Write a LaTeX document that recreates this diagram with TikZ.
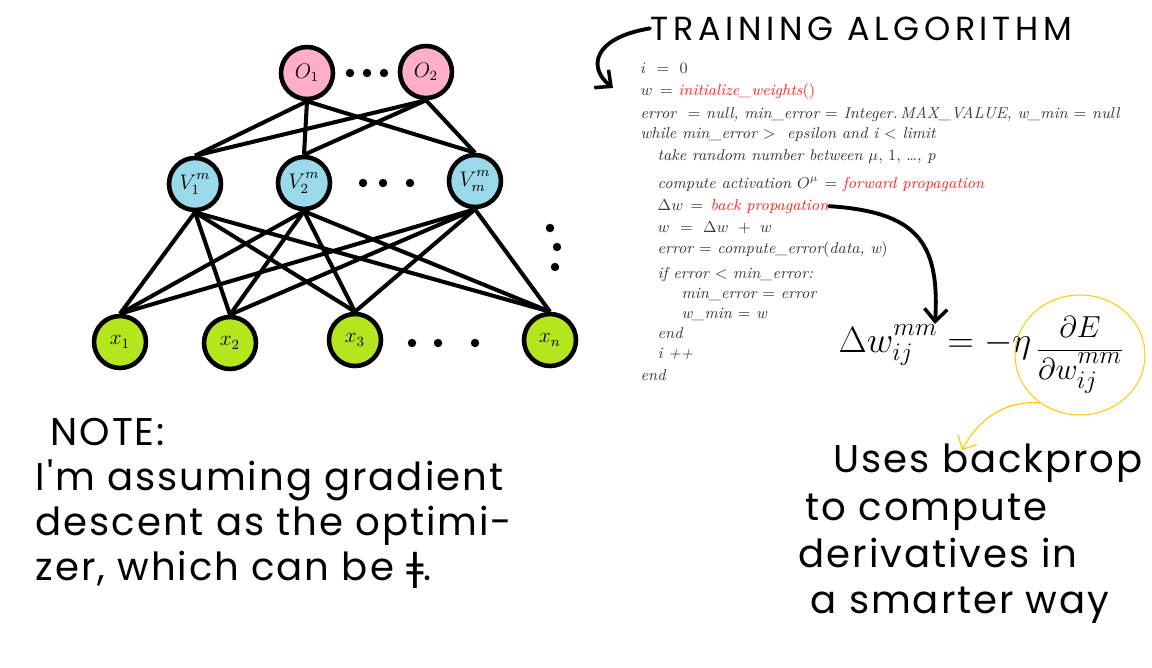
\documentclass[tikz,border=0pt]{standalone}
\usepackage{fontspec}
\usetikzlibrary{shapes.geometric,arrows.meta}
\newfontfamily\hand[LetterSpace=5]{Poppins}
\newfontfamily\handwide[LetterSpace=14]{Poppins}
\newfontfamily\handsym{DejaVu Sans}
\definecolor{rose}{RGB}{255,174,201}
\definecolor{turq}{RGB}{153,217,234}
\definecolor{lime}{RGB}{181,230,29}
\definecolor{gold}{RGB}{255,201,14}
\definecolor{codegray}{RGB}{55,55,55}
\definecolor{codered}{RGB}{255,35,35}

\begin{document}
\begin{tikzpicture}[x=0.02cm, y=-0.02cm, thick,
  main/.style = {draw, circle, line width=2.6pt, minimum size=1.04cm, inner sep=0pt, font=\large},
  wire/.style = {line width=2.3pt},
  code/.style = {anchor=base west, inner sep=0pt, text=codegray, font=\fontsize{9}{11}\selectfont\itshape},
  note/.style = {anchor=base west, inner sep=0pt, font=\hand\fontsize{22}{26}\selectfont},
  pen/.style = {line width=2.2pt, line cap=round, -{Straight Barb[length=7pt, width=13pt, line width=2pt]}}]
      \useasboundingbox (0,0) rectangle (1152,667);

      % network
      \node[main, fill=rose] (o1) at (307,73) {$O_1$};
      \node[main, fill=rose] (o2) at (426,72) {$O_2$};
      \node[main, fill=turq] (v1) at (195,184) {$V^{m\vphantom{y}}_{1\vphantom{A}}$};
      \node[main, fill=turq] (v2) at (304,183) {$V^{m\vphantom{y}}_{2\vphantom{A}}$};
      \node[main, fill=turq] (vm) at (475,181) {$V^{m\vphantom{y}}_{m\vphantom{A}}$};
      \node[main, fill=lime] (x1) at (120,342) {$x_1$};
      \node[main, fill=lime] (x2) at (230,343) {$x_2$};
      \node[main, fill=lime] (x3) at (355,340) {$x_3$};
      \node[main, fill=lime] (xn) at (550,340) {$x_n$};

      \path[wire]
      (o1.south) edge (v1.north)
      (o1.south) edge (v2.north)
      (o1.south) edge (vm.north)
      (o2.south) edge (v1.north)
      (o2.south) edge (v2.north)
      (o2.south) edge (vm.north)
      (v1.south) edge (x1.north)
      (v1.south) edge (x2.north)
      (v1.south) edge (x3.north)
      (v1.south) edge (xn.north)
      (v2.south) edge (x1.north)
      (v2.south) edge (x2.north)
      (v2.south) edge (x3.north)
      (v2.south) edge (xn.north)
      (vm.south) edge (x1.north)
      (vm.south) edge (x2.north)
      (vm.south) edge (x3.north)
      (vm.south) edge (xn.north);

      \foreach \x in {350,367,384} \fill (\x,73) circle[radius=2.4pt];
      \foreach \x in {363,383,410} \fill (\x,183) circle[radius=2.4pt];
      \foreach \x in {412,438,475} \fill (\x,343) circle[radius=2.4pt];
      \foreach \x/\y in {550/228,557/247,555/267} \fill (\x,\y) circle[radius=2.4pt];

      % algorithm
      \node[note, font=\handwide\fontsize{19}{22}\selectfont] (title) at (650,40) {TRAINING ALGORITHM};
      \node[code] (l1) at (640,73) {$i\ =\ 0$};
      \node[code] (l2) at (640,95) {$w\,=$ \textcolor{codered}{initialize\_weights}\textcolor{codered}{\upshape()}};
      \node[code] (l3) at (640,118) {error\ \ $=$ null, min\_error $=$ Integer.\,MAX\_VALUE, w\_min $=$ null};
      \node[code] (l4) at (640,138) {while min\_error $>$\ \ epsilon and i $<$ limit};
      \node[code] (l5) at (657,160) {take random number between {\upshape$\mu$, 1, \dots,} p};
      \node[code] (l6) at (657,188) {compute activation $O^{\mu}$ $=$ \textcolor{codered}{forward propagation}};
      \node[code] (l7) at (657,210) {$\Delta w\,=$};
      \node[code, text=codered] (bp) at (710,210) {back propagation};
      \node[code] (l8) at (657,232) {$w\ =\ \Delta w\ +\ w$};
      \node[code] (l9) at (657,253) {error $=$ compute\_error{\upshape(}data, w{\upshape)}};
      \node[code] (l10) at (657,278) {if error $<$ min\_error:};
      \node[code] (l11) at (681,298) {min\_error $=$ error};
      \node[code] (l12) at (681,318) {w\_min $=$ w};
      \node[code] (l13) at (657,338) {end};
      \node[code] (l14) at (657,358) {i ++};
      \node[code] (l15) at (640,380) {end};

      \draw[pen] (title.west) .. controls (592,38) and (588,68) .. (613,88);

      % formula
      \node[inner sep=0pt, font=\fontsize{21}{25}\selectfont] (lhs) at (935,345) {$\Delta w^{mm\vphantom{y}}_{ij\vphantom{A}} = -\eta$};
      \node[ellipse, draw=gold, line width=0.6pt, minimum width=2.6cm, minimum height=2.4cm, inner sep=0pt,
            font=\fontsize{19}{23}\selectfont] (frac) at (1080,355) {$\displaystyle\frac{\partial E}{\partial w^{mm\vphantom{y}}_{ij\vphantom{A}}}$};
      \draw[pen] (bp.east) .. controls (915,212) and (940,240) .. (lhs.north);

      \coordinate (ytip) at (962,450);
      \draw[gold, line width=0.7pt, -{Straight Barb[length=6pt, width=12pt]}] (frac.230) .. controls (1000,400) and (975,425) .. (ytip);

      % notes
      \node[note] (n0) at (50,445) {NOTE:};
      \node[note] (n1) at (35,490) {I'm assuming gradient};
      \node[note] (n2) at (35,535) {descent as the optimi-};
      \node[note] (n3) at (35,580) {zer, which can be {\handsym ǂ}.};

      \node[note] (u1) at (833,472) {Uses backprop};
      \node[note] (u2) at (805,520) {to compute};
      \node[note] (u3) at (798,567) {derivatives in};
      \node[note] (u4) at (810,613) {a smarter way};
    \end{tikzpicture}
\end{document}
